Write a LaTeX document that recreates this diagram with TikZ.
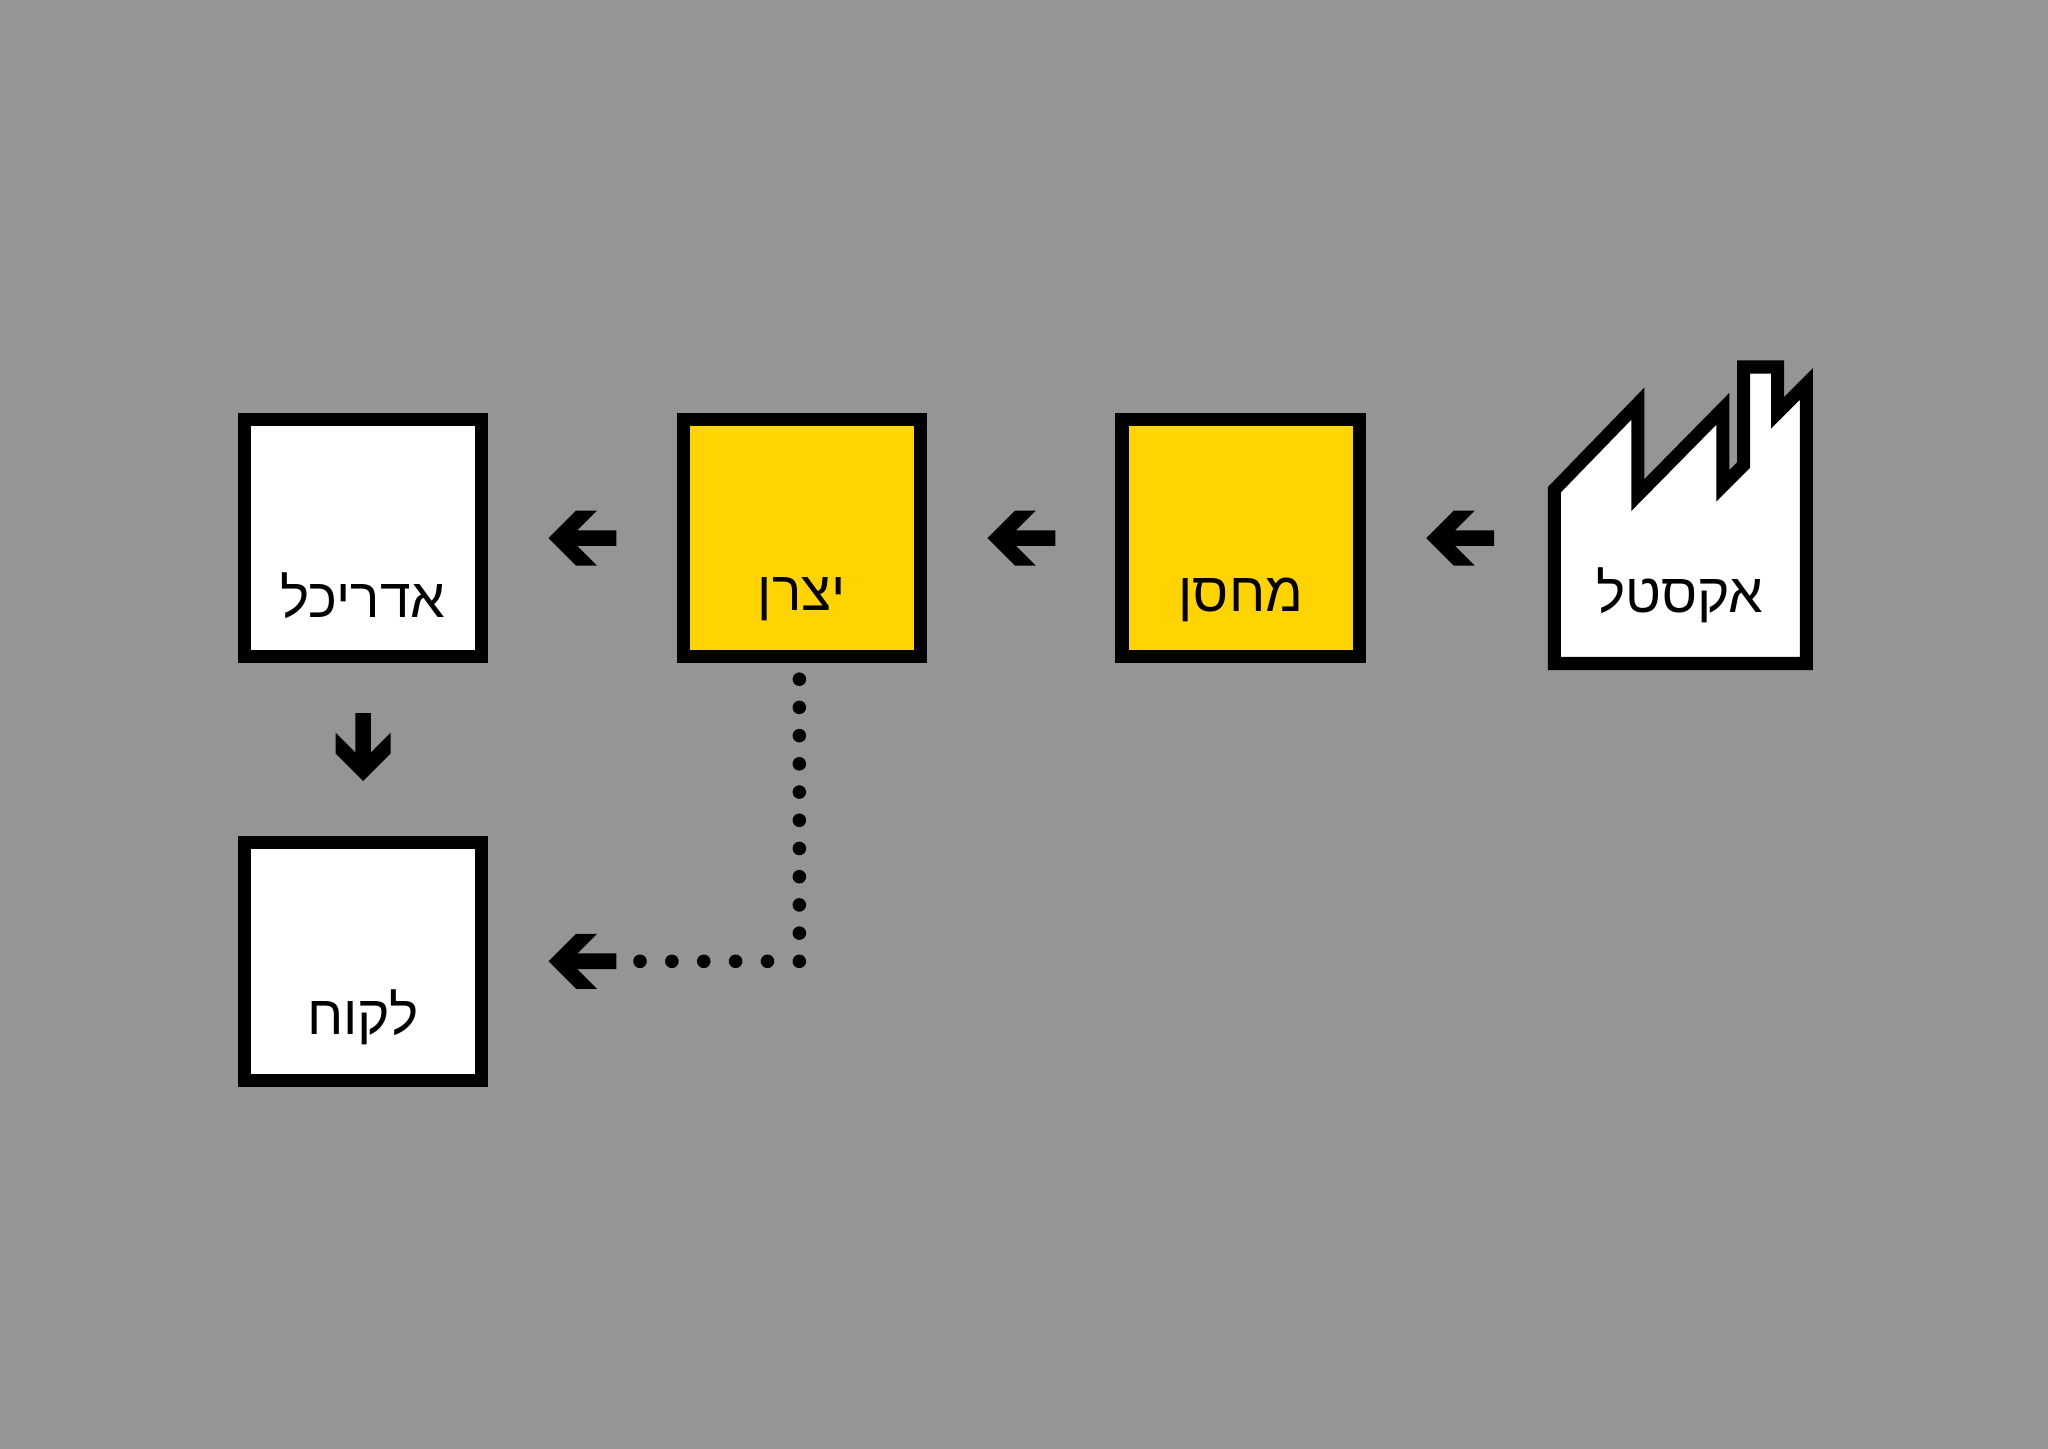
\documentclass[tikz,border=0pt]{standalone}
\usepackage{fontspec}
\TeXXeTstate=1
\newfontfamily\hebfont[Script=Hebrew]{Liberation Sans}
\definecolor{bg}{HTML}{959595}
\definecolor{ylw}{HTML}{FFD400}
\begin{document}
\begin{tikzpicture}[x=0.02cm,y=-0.02cm,
  boxst/.style={draw=black,line width=0.2cm,minimum width=3.64cm,minimum height=3.64cm,inner sep=0pt},
  lbl/.style={font=\hebfont\fontsize{24}{28}\selectfont,text=black},
  arrowL/.pic={\fill (-26,0)--(-5,-21)--(11,-21)--(-4,-6)--(26,-6)--(26,6)--(-4,6)--(11,21)--(-5,21)--cycle;}]
\fill[bg] (0,0) rectangle (1568,1109);
\useasboundingbox (0,0) rectangle (1568,1109);
\node[boxst,fill=white] (adr) at (278,412) {};
\node[boxst,fill=ylw] (yz) at (614,412) {};
\node[boxst,fill=ylw] (mh) at (950,412) {};
\node[boxst,fill=white] (lq) at (278,736) {};
\draw[line width=0.2cm,fill=white,miter limit=10] (1190,508)--(1190,375)--(1254,309)--(1254,379)--(1319,313)--(1319,372)--(1335,356)--(1335,281)--(1361,281)--(1361,316)--(1383,294)--(1383,508)--cycle;
\coordinate (fac) at (1286,456);
\node[lbl] at (278,456) {\beginR אדריכל\endR};
\node[lbl] at (614,459) {\beginR יצרן\endR};
\node[lbl] at (950,459) {\beginR מחסן\endR};
\node[lbl] at (fac) {\beginR אקסטל\endR};
\node[lbl] at (278,779) {\beginR לקוח\endR};
\pic at (446,412) {arrowL};
\pic at (782,412) {arrowL};
\pic at (1118,412) {arrowL};
\pic at (446,736) {arrowL};
\pic[rotate=90] at (278,572) {arrowL};
\foreach \y in {520,541.6,...,716} \fill (612,\y) circle (5.2);
\foreach \x in {612,587.6,...,485} \fill (\x,736) circle (5.2);
\end{tikzpicture}
\end{document}
